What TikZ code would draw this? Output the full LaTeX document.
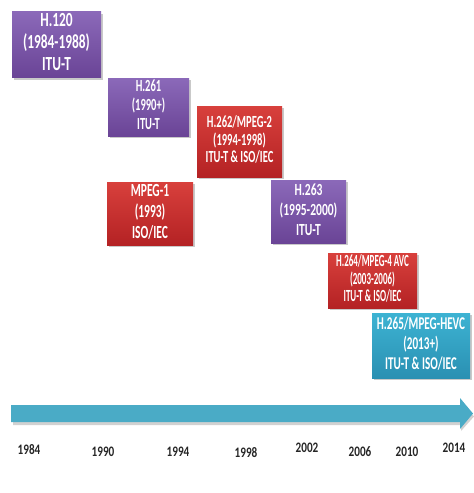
\documentclass[tikz,border=0pt]{standalone}
\usepackage{fontspec}
\setmainfont{Carlito}
\usetikzlibrary{shadows}
\definecolor{purT}{HTML}{8B69B9}
\definecolor{purB}{HTML}{6A4496}
\definecolor{redT}{HTML}{D8403C}
\definecolor{redB}{HTML}{B42224}
\definecolor{tealT}{HTML}{3DB3D3}
\definecolor{tealB}{HTML}{2A90B2}
\definecolor{arrowc}{HTML}{4AABC6}
\newcommand\boxtext[4]{\scalebox{#1}[1]{\fontsize{#2}{#3}\selectfont\bfseries\setlength\tabcolsep{0pt}\begin{tabular}{c}#4\end{tabular}}}
\tikzset{
  stdbox/.style={rectangle, inner sep=0pt, text=white,
    drop shadow={shadow xshift=1.5pt, shadow yshift=-2pt, opacity=0.35, fill=black!60}},
  purbox/.style={stdbox, top color=purT, bottom color=purB},
  redbox/.style={stdbox, top color=redT, bottom color=redB},
  tealbox/.style={stdbox, top color=tealT, bottom color=tealB},
  yearlbl/.style={inner sep=0pt, font=\fontsize{14.5}{17}\selectfont\bfseries, text=black!85}
}
\begin{document}
\begin{tikzpicture}[x=1pt,y=-1pt]
\useasboundingbox (0,0) rectangle (474,493);
\fill[white] (0,0) rectangle (474,493);

\node[purbox, minimum width=89pt, minimum height=65pt] (h120) at (56.5,44.5)
  {\boxtext{0.67}{20}{22}{H.120\\(1984-1988)\\ITU-T}};
\node[purbox, minimum width=81pt, minimum height=58pt] (h261) at (148.5,107)
  {\boxtext{0.62}{17}{19}{H.261\\(1990+)\\ITU-T}};
\node[redbox, minimum width=85pt, minimum height=71pt] (h262) at (239.5,141.5)
  {\boxtext{0.62}{17}{17.5}{H.262/MPEG-2\\(1994-1998)\\ITU-T \& ISO/IEC}};
\node[redbox, minimum width=86pt, minimum height=61pt] (mpeg1) at (150,213.5)
  {\boxtext{0.62}{18.5}{21}{MPEG-1\\(1993)\\ISO/IEC}};
\node[purbox, minimum width=75pt, minimum height=63pt] (h263) at (308.5,211.5)
  {\boxtext{0.68}{17}{20}{H.263\\(1995-2000)\\ITU-T}};
\node[redbox, minimum width=89pt, minimum height=55pt] (h264) at (372.5,280.5)
  {\boxtext{0.53}{17}{17}{H.264/MPEG-4 AVC\\(2003-2006)\\ITU-T \& ISO/IEC}};
\node[tealbox, minimum width=98pt, minimum height=65pt] (h265) at (421,345.5)
  {\boxtext{0.62}{18}{20}{H.265/MPEG-HEVC\\(2013+)\\ITU-T \& ISO/IEC}};

% timeline arrow with soft shadow
\fill[black!18] (13,408) -- (461,408) -- (461,401) -- (474,416.5) -- (461,431) -- (461,425) -- (13,425) -- cycle;
\fill[arrowc] (11,405) -- (460,405) -- (460,398) -- (473,413.5) -- (460,429) -- (460,422) -- (11,422) -- cycle;

\node[yearlbl] (y1984) at (29,450) {\scalebox{0.77}[1]{1984}};
\node[yearlbl] (y1990) at (103,452) {\scalebox{0.77}[1]{1990}};
\node[yearlbl] (y1994) at (178,452) {\scalebox{0.77}[1]{1994}};
\node[yearlbl] (y1998) at (246,453) {\scalebox{0.77}[1]{1998}};
\node[yearlbl] (y2002) at (307,448) {\scalebox{0.77}[1]{2002}};
\node[yearlbl] (y2006) at (360,452) {\scalebox{0.77}[1]{2006}};
\node[yearlbl] (y2010) at (407,452) {\scalebox{0.77}[1]{2010}};
\node[yearlbl] (y2014) at (454,448) {\scalebox{0.77}[1]{2014}};
\end{tikzpicture}
\end{document}
